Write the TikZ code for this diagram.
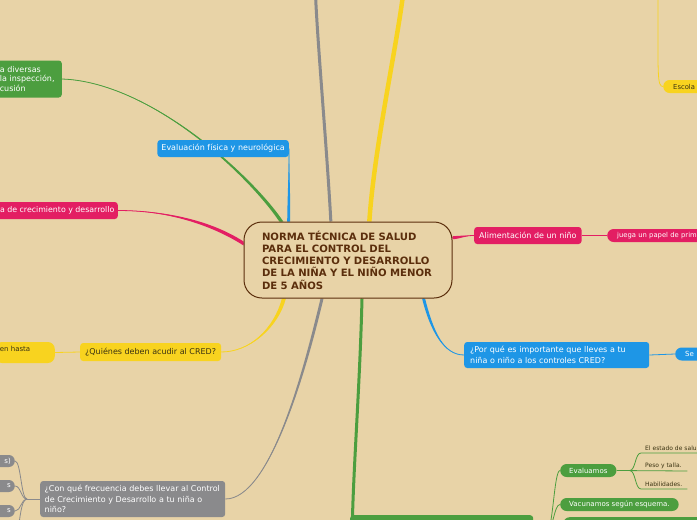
\documentclass[tikz,border=0pt]{standalone}
\usepackage{fontspec}
\setmainfont{DejaVu Sans}
\usepackage{tikz}
\usetikzlibrary{calc}

\definecolor{arena}{HTML}{E8D3A7}
\definecolor{cafe}{HTML}{5B2E0C}
\definecolor{verde}{HTML}{4C9E3F}
\definecolor{azul}{HTML}{1E96E6}
\definecolor{rosa}{HTML}{E31E63}
\definecolor{amarillo}{HTML}{F8D31F}
\definecolor{gris}{HTML}{8A8A8C}
\definecolor{oscuro}{HTML}{3B3312}

\pgfdeclarelayer{fondo}
\pgfdeclarelayer{ramas}
\pgfsetlayers{fondo,ramas,main}

% rama gruesa en (#2) que se afina hasta (#5)
\newcommand{\rama}[6]{%
  \fill[#1] ($(#2)+#6$) .. controls ($(#3)+#6$) and (#4) .. (#5)
    .. controls (#4) and ($(#3)-#6$) .. ($(#2)-#6$) -- cycle;
  \draw[#1, line width=0.8pt] (#2) .. controls (#3) and (#4) .. (#5);
}

\begin{document}
\begin{tikzpicture}[x=1pt, y=-1pt,
  caja/.style={rounded corners=3pt, inner xsep=5pt, inner ysep=2pt, align=left,
    text=white, font=\fontsize{8}{10.5}\selectfont},
  chica/.style={caja, rounded corners=6.5pt, inner xsep=10pt, minimum height=13pt,
    font=\fontsize{6.8}{8}\selectfont},
  hoja/.style={anchor=south west, inner xsep=4pt, inner ysep=2pt, align=left,
    text=oscuro, font=\fontsize{6}{7}\selectfont},
  fina/.style={line width=0.8pt}]

  \useasboundingbox (0,0) rectangle (697,520);
  \begin{pgfonlayer}{fondo}
    \fill[arena] (0,0) rectangle (697,520);
  \end{pgfonlayer}

  % nodo central
  \node[draw=cafe, line width=1pt, rounded corners=18pt, minimum width=208pt,
    minimum height=76pt, text width=172pt, align=left, text=cafe,
    font=\fontsize{10.1}{12.2}\selectfont\bfseries] (centro) at (348,260)
    {NORMA TÉCNICA DE SALUD\\PARA EL CONTROL DEL\\CRECIMIENTO Y DESARROLLO\\DE LA NIÑA Y EL NIÑO MENOR\\DE 5 AÑOS};

  % lado izquierdo
  \node[caja, fill=verde, anchor=east, text width=59pt, inner xsep=3pt, minimum height=37pt,
    font=\fontsize{8}{9.5}\selectfont] (tecnicas) at (62,79) {a diversas\\la inspección,\\cusión};
  \node[caja, fill=azul, anchor=east, minimum height=17pt, inner xsep=4pt] (evaluacion) at (289,148.5)
    {Evaluación física y neurológica};
  \node[caja, fill=rosa, anchor=east, minimum height=17pt, inner xsep=3.5pt,
    font=\fontsize{7.85}{10}\selectfont] (vigilancia) at (118,210.5)
    {a de crecimiento y desarrollo};
  \node[caja, fill=amarillo, text=oscuro, anchor=west, minimum height=18pt] (quienes) at (80,352)
    {¿Quiénes deben acudir al CRED?};
  \node[caja, fill=amarillo, text=oscuro, anchor=east, rounded corners=7pt, text width=50pt,
    minimum height=21pt, font=\fontsize{7}{8}\selectfont] (hasta) at (55,352.5) {en hasta\\\mbox{}};
  \node[caja, fill=gris, anchor=west, text width=176pt, inner xsep=4.5pt, minimum height=36pt] (frecuencia) at (40,499)
    {¿Con qué frecuencia debes llevar al Control\\de Crecimiento y Desarrollo a tu niña o\\niño?};
  \foreach \y/\t/\n in {461/{s)}/f1, 486/s/f2, 511/s/f3}
    \node[caja, fill=gris, anchor=east, text width=20pt, align=right, minimum height=12pt,
      rounded corners=6pt, inner xsep=4pt, font=\fontsize{7}{8}\selectfont] (\n) at (15,\y) {\t};

  % lado derecho
  \node[caja, fill=rosa, anchor=west, minimum height=17pt] (alimentacion) at (474,235.5)
    {Alimentación de un niño};
  \node[chica, fill=rosa, anchor=west, text width=90pt] (papel) at (607,235.5) {juega un papel de prim};
  \node[chica, fill=amarillo, text=oscuro, anchor=west, text width=40pt] (escolar) at (663,86.5) {Escola};
  \node[caja, fill=azul, anchor=west, text width=173pt, inner xsep=6pt, minimum height=26pt,
    font=\fontsize{8}{11}\selectfont] (importante) at (464,355)
    {¿Por qué es importante que lleves a tu\\niña o niño a los controles CRED?};
  \node[chica, fill=azul, anchor=west, text width=30pt, font=\fontsize{7}{8}\selectfont] (se) at (675,354) {Se};

  % abajo
  \node[caja, fill=verde, anchor=north west, minimum width=183pt, minimum height=30pt] (atencion) at (350,515) {};
  \node[chica, fill=verde, anchor=west, inner xsep=9pt, font=\fontsize{7}{8}\selectfont] (evaluamos) at (560,470.5) {Evaluamos};
  \node[chica, fill=verde, anchor=west, inner xsep=9pt, font=\fontsize{7}{8}\selectfont] (vacunamos) at (560,504.5)
    {Vacunamos según esquema.};
  \node[chica, fill=verde, anchor=north west, minimum width=150pt, minimum height=20pt] (otro) at (563,517) {};
  \node[hoja, text width=62pt] (salud) at (641,453) {El estado de salu};
  \node[hoja, text width=38pt] (peso) at (641,471) {Peso y talla.};
  \node[hoja, text width=38pt] (habilidades) at (641,489) {Habilidades.};

  % puntas sueltas
  \coordinate (arriba1) at (403,-5);
  \coordinate (arriba2) at (315.5,-5);
  \coordinate (arriba3) at (658,-5);
  \coordinate (abajo1) at (18,530);
  \coordinate (nudo) at ($(frecuencia.west)+(-13,0)$);
  \coordinate (nudo2) at (547,531);
  \coordinate (nudo3) at ($(evaluamos.east)+(13,0)$);

  \begin{pgfonlayer}{ramas}
    \rama{verde}{centro.150}{250,175}{150,82}{tecnicas.east}{(2,0)}
    \rama{azul}{centro.147}{289,195}{289,165}{evaluacion.east}{(1.5,0)}
    \rama{rosa}{centro.171}{210,222}{165,210.5}{vigilancia.east}{(0,2)}
    \rama{rosa}{centro.12}{462,237}{466,235.5}{alimentacion.west}{(0,1.5)}
    \rama{amarillo}{centro.211}{276,328}{250,352}{quienes.east}{(2,0)}
    \rama{gris}{centro.236}{305,370}{270,499}{frecuencia.east}{(1.5,0)}
    \rama{azul}{centro.333}{432,332}{444,355}{importante.west}{(1.5,0)}

    \draw[amarillo, line width=4.5pt] (centro.61) .. controls (374,150) and (396,50) .. (arriba1);
    \draw[gris, line width=3pt] (centro.114) .. controls (327,150) and (318,50) .. (arriba2);
    \draw[verde, line width=3pt] (centro.290) .. controls (360,380) and (354,460) .. ($(atencion.north west)+(2.5,1.5)$);

    \draw[rosa, fina] (alimentacion.east) -- (papel.west);
    \draw[amarillo, fina] (quienes.west) -- (hasta.east);
    \draw[amarillo, fina] (arriba3) .. controls (658,75) and (657,86.5) .. (escolar.west);
    \draw[azul, fina] (importante.east) -- (se.west);

    \draw[gris, fina] (frecuencia.west) -- (nudo);
    \foreach \n in {f1,f2,f3}
      \draw[gris, fina] (nudo) .. controls +(-6,0) and +(6,0) .. (\n.east);
    \draw[gris, fina] (nudo) .. controls +(-6,0) and +(2,-10) .. (abajo1);

    \draw[verde, fina] (atencion.east) -- (nudo2);
    \foreach \n in {evaluamos,vacunamos,otro}
      \draw[verde, fina] (nudo2) .. controls +(6,0) and +(-6,0) .. (\n.west);
    \draw[verde, fina] (evaluamos.east) -- (peso.south east);
    \draw[verde, fina] (nudo3) .. controls +(6,0) and +(-6,0) .. (salud.south west) -- (salud.south east);
    \draw[verde, fina] (nudo3) .. controls +(6,0) and +(-6,0) .. (habilidades.south west) -- (habilidades.south east);
  \end{pgfonlayer}
\end{tikzpicture}
\end{document}
